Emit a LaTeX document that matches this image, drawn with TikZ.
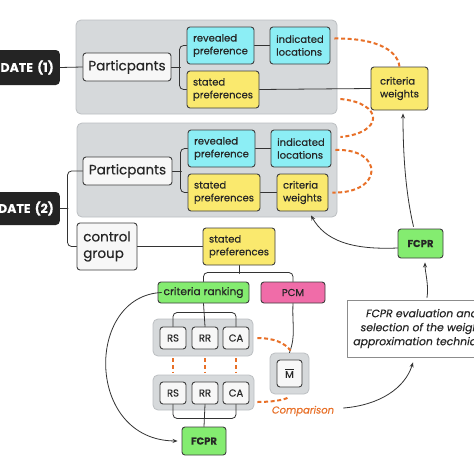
\documentclass[tikz,border=0pt]{standalone}
\usepackage{fontspec}
\setmainfont{Poppins}[FakeBold=0.35]
\usetikzlibrary{arrows.meta}

\definecolor{cyanbox}{RGB}{140,238,245}
\definecolor{yellowbox}{RGB}{250,233,110}
\definecolor{greenbox}{RGB}{132,236,112}
\definecolor{pinkbox}{RGB}{240,108,168}
\definecolor{groupgray}{RGB}{214,217,219}
\definecolor{groupline}{RGB}{188,191,194}
\definecolor{darkbox}{RGB}{36,36,36}
\definecolor{dashorange}{RGB}{232,112,40}
\definecolor{framegray}{RGB}{62,62,62}

\begin{document}
\begin{tikzpicture}[x=1pt, y=-1pt, line cap=round, line join=round,
  box/.style={draw=framegray, rounded corners=3pt, line width=0.9pt,
    inner sep=2pt, align=left, text=black!85,
    font=\fontsize{10}{12.8}\selectfont},
  bigbox/.style={box, fill=black!3, font=\fontsize{13.5}{16.5}\selectfont},
  smallbox/.style={box, fill=black!3, minimum width=26pt, minimum height=22pt,
    align=center, font=\fontsize{10}{12}\selectfont},
  datebox/.style={fill=darkbox, rounded corners=4pt, text=white, anchor=east,
    text width=64pt, align=right, inner xsep=6pt,
    font=\fontsize{12.5}{15}\selectfont\bfseries},
  group/.style={fill=groupgray, draw=groupline, rounded corners=5pt, line width=0.8pt},
  link/.style={draw=black!80, line width=0.8pt},
  fork/.style={link, rounded corners=4pt},
  dashlink/.style={draw=dashorange, line width=2pt, dash pattern=on 4pt off 2.6pt, line cap=butt},
  arrowlink/.style={link, -{Stealth[length=5pt,width=4pt]}}]

% --- Canvas ---
\useasboundingbox (0,0) rectangle (474,474);
\fill[white] (0,0) rectangle (474,474);

% --- Gray groups ---
\node[group, minimum width=261pt, minimum height=94pt] (grp1) at (206.5,67) {};
\node[group, minimum width=260pt, minimum height=94pt] (grp2) at (207,170) {};
\node[group, minimum width=100pt, minimum height=37pt] (grp3) at (203,337.5) {};
\node[group, minimum width=101pt, minimum height=35pt] (grp4) at (203.5,392.5) {};
\node[group, minimum width=39pt, minimum height=41pt] (mgrp) at (289.5,373.5) {};

% --- Dates ---
\node[datebox, minimum height=35pt] (date1) at (60,67.5) {DATE (1)};
\node[datebox, minimum height=33pt] (date2) at (60,208.5) {DATE (2)};

% --- Session 1 ---
\node[bigbox, minimum width=88pt, minimum height=28pt] (part1) at (127,67) {Particpants};
\node[box, fill=cyanbox, minimum width=67pt, minimum height=37pt] (rev1) at (220.5,45.5) {revealed\\preference};
\node[box, fill=cyanbox, minimum width=60pt, minimum height=37pt] (ind1) at (300,45.5) {indicated\\locations};
\node[box, fill=yellowbox, minimum width=72pt, minimum height=37pt] (sta1) at (223,89.5) {stated\\preferences};
\node[box, fill=yellowbox, minimum width=57pt, minimum height=43pt] (cw1) at (399.5,88.5) {criteria\\weights};

% --- Session 2 ---
\node[bigbox, minimum width=89pt, minimum height=28pt] (part2) at (127.5,171) {Particpants};
\node[box, fill=cyanbox, minimum width=67pt, minimum height=37pt] (rev2) at (221.5,148.5) {revealed\\preference};
\node[box, fill=cyanbox, minimum width=60pt, minimum height=37pt] (ind2) at (301,148.5) {indicated\\locations};
\node[box, fill=yellowbox, minimum width=72pt, minimum height=37pt] (sta2) at (224,192.5) {stated\\preferences};
\node[box, fill=yellowbox, minimum width=51pt, minimum height=37pt] (cw2) at (302.5,192.5) {criteria\\weights};

% --- Control group ---
\node[bigbox, minimum width=60pt, minimum height=47pt] (ctrl) at (107,246.5) {control\\group};
\node[box, fill=yellowbox, minimum width=72pt, minimum height=37pt] (sta3) at (239,246.5) {stated\\preferences};
\node[box, fill=greenbox, minimum width=91pt, minimum height=21pt, align=center,
  font=\fontsize{10.6}{12}\selectfont] (crit) at (203.5,292.5) {criteria ranking};
\node[box, fill=pinkbox, minimum width=64pt, minimum height=21pt, align=center] (pcm) at (293,292.5) {PCM};

% --- Weight techniques ---
\node[smallbox] (rs1) at (173,338) {RS};
\node[smallbox] (rr1) at (205,338) {RR};
\node[smallbox] (ca1) at (236,338) {CA};
\node[smallbox] (rs2) at (173,393) {RS};
\node[smallbox] (rr2) at (205,393) {RR};
\node[smallbox] (ca2) at (236,393) {CA};
\node[smallbox, minimum width=25pt, minimum height=27pt] (mbox) at (289.5,373.5) {$\overline{\mbox{M}}$};

% --- FCPR and evaluation ---
\node[box, fill=greenbox, minimum width=44pt, minimum height=28pt, align=center, font=\fontsize{10}{12}\selectfont\bfseries] (fcpr1) at (204,441) {FCPR};
\node[box, fill=greenbox, minimum width=45pt, minimum height=29pt, align=center, font=\fontsize{10}{12}\selectfont\bfseries] (fcpr2) at (420.5,243.5) {FCPR};
\node[draw=black!45, fill=white, line width=0.8pt, minimum width=150pt, minimum height=57pt,
  align=center, font=\fontsize{10.8}{14}\selectfont\itshape, text=black!85] (eval) at (422,328.5)
  {FCPR evaluation and\\selection of the weight\\approximation technique};
\node[text=dashorange, font=\fontsize{10}{12}\selectfont\itshape] (comp) at (303,411) {Comparison};

% --- Tree links ---
\draw[link] (date1.east) -- (part1.west);
\draw[link] (part1.east) -- ++(9,0);
\draw[fork] (rev1.west) -- ++(-7,0) |- (sta1.west);
\draw[link] (rev1.east) -- (ind1.west);
\draw[link] (sta1.east) -- (cw1.west);

\draw[link] (date2.east) -- ++(8,0);
\draw[fork] (part2.west) -- ++(-15,0) |- (ctrl.west);
\draw[link] (part2.east) -- ++(9,0);
\draw[fork] (rev2.west) -- ++(-7,0) |- (sta2.west);
\draw[link] (rev2.east) -- (ind2.west);
\draw[link] (sta2.east) -- (cw2.west);

\draw[link] (ctrl.east) -- (sta3.west);
\draw[link] (sta3.south) -- ++(0,8);
\draw[fork] (crit.north) -- ++(0,-9) -| (pcm.north);
\draw[link] (crit.south) -- (rr1.north);
\draw[fork] (rs1.north) -- ++(0,-14) -| (ca1.north);
\draw[fork] (rs2.south) -- ++(0,14) -| (ca2.south);
\draw[link] (rr2.south) -- (fcpr1.north);
\draw[link] (pcm.south) .. controls (292,325) and (296,335) .. (mgrp.north);

% --- Orange dashed links ---
\draw[dashlink] ([xshift=4pt,yshift=7pt]ind1.east) .. controls (372,38) and (397,48) .. (cw1.north);
\draw[dashlink] ([xshift=3pt,yshift=-32pt]grp1.east) .. controls (384,103) and (384,133) .. ([xshift=3pt,yshift=33pt]grp2.east);
\draw[dashlink] ([xshift=4pt,yshift=-1.5pt]ind2.east) .. controls (384,148) and (384,194) .. ([xshift=4pt]cw2.east);
\foreach \a/\b in {rs1/rs2, rr1/rr2, ca1/ca2}
  \draw[dashlink] ([yshift=-9pt]\a.south) -- ([yshift=9pt]\b.north);
\draw[dashlink] ([xshift=8pt]ca1.east) .. controls (274,338) and (285,343) .. ([xshift=1pt,yshift=2pt]mgrp.north);
\draw[dashlink] ([xshift=8pt,yshift=-9pt]ca2.east) .. controls (272,402) and (284,400) .. ([xshift=-1pt,yshift=-3pt]mgrp.south);

% --- Arrows ---
\draw[arrowlink] ([xshift=4pt]crit.west) .. controls (85,296) and (85,440) .. ([xshift=-4pt]fcpr1.west);
\draw[arrowlink] ([xshift=6pt,yshift=3pt]comp.east) .. controls (380,405) and (405,388) .. ([xshift=-9pt,yshift=-5pt]eval.south);
\draw[arrowlink] ([xshift=5pt,yshift=2pt]eval.north) .. controls (429,285) and (425,272) .. ([xshift=4.5pt,yshift=-4pt]fcpr2.south);
\draw[arrowlink] ([xshift=-7pt,yshift=2pt]fcpr2.north) .. controls (405,190) and (403,150) .. ([xshift=3.5pt,yshift=-3pt]cw1.south);
\draw[arrowlink] ([yshift=-4.5pt]fcpr2.west) .. controls (350,250) and (325,240) .. ([xshift=8.5pt,yshift=-4pt]cw2.south);

\end{tikzpicture}
\end{document}
